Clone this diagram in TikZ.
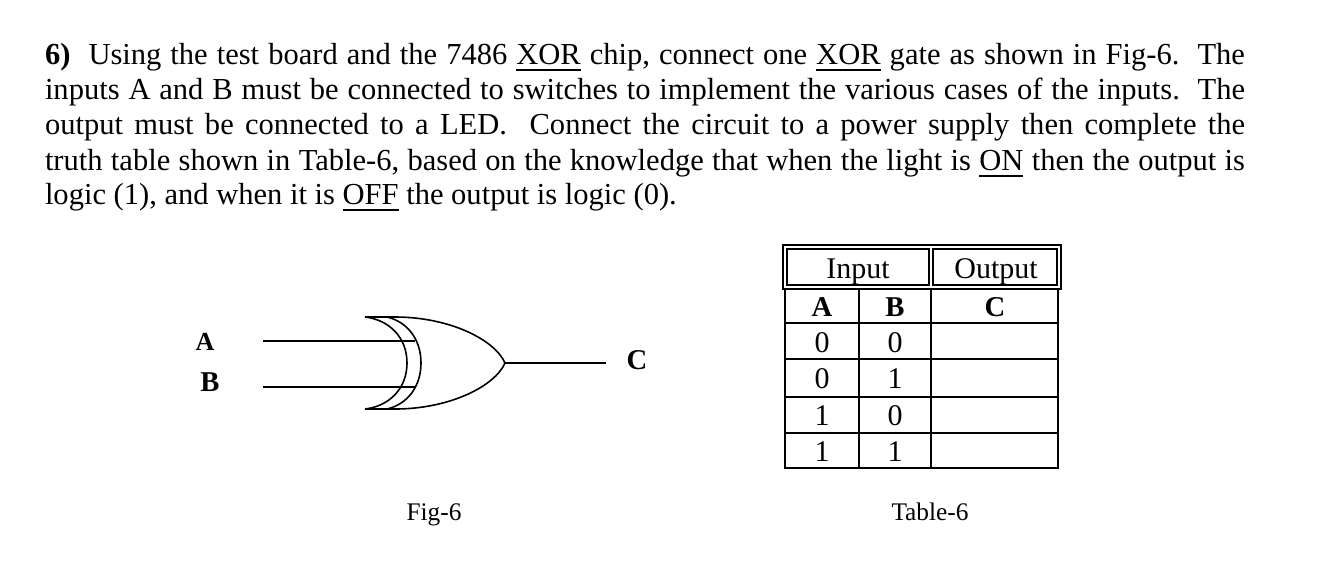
\documentclass[tikz,border=0pt]{standalone}
\usepackage{fontspec}
\setmainfont{Liberation Serif}
\frenchspacing
\newcommand{\fs}{\fontsize{22.9pt}{26pt}\selectfont}
\newcommand{\ul}[1]{\vtop{\hbox{#1}\kern 3.3pt\hrule height 1.5pt}}
\newcommand{\jline}[1]{\hbox to 900pt{#1}}
\tikzset{
 x=0.75pt,y=-0.75pt,
 textline/.style={anchor=base west,inner sep=0pt,outer sep=0pt,font=\fs},
 tcell/.style={anchor=base,inner sep=0pt,outer sep=0pt,font=\fontsize{22.5pt}{24pt}\selectfont},
 hcell/.style={tcell,font=\fontsize{21.5pt}{24pt}\selectfont\bfseries},
 pinlabel/.style={anchor=base,inner sep=0pt,outer sep=0pt,font=\fontsize{21.5pt}{24pt}\selectfont\bfseries},
 figcap/.style={anchor=base,inner sep=0pt,outer sep=0pt,font=\fontsize{19pt}{22pt}\selectfont},
 wire/.style={line width=1.2pt,black},
 rule/.style={line width=1.2pt,black},
}
\begin{document}
\begin{tikzpicture}
\useasboundingbox (0,0) rectangle (1334,568);
\node[textline] (l1) at (45,64) {\jline{\textbf{6)}\ \ Using the test board and the 7486 \ul{XOR} chip, connect one \ul{XOR} gate as shown in Fig-6.\ \ The}};
\node[textline] (l2) at (45,99) {\jline{inputs A and B must be connected to switches to implement the various cases of the inputs.\ \ The}};
\node[textline] (l3) at (45,134) {\jline{output must be connected to a LED.\ \ Connect the circuit to a power supply then complete the}};
\node[textline] (l4) at (45,170) {\jline{truth table shown in Table-6, based on the knowledge that when the light is \ul{ON} then the output is}};
\node[textline] (l5) at (45,204.5) {logic (1), and when it is \ul{OFF} the output is logic (0).};
% gate
\coordinate (tl) at (365,317); \coordinate (bl) at (365,409);
\coordinate (tm) at (395,317); \coordinate (bm) at (395,409);
\coordinate (tip) at (505,363);
\coordinate (ain) at (263,341); \coordinate (aout) at (415,341);
\coordinate (bin) at (263,387); \coordinate (bout) at (415,387);
\coordinate (cend) at (606,363);
\draw[wire] (tl) -- (tm) .. controls (450,317) and (495,340) .. (tip) .. controls (495,386) and (450,409) .. (bm) -- (bl);
\draw[wire] (tl) .. controls (390,320) and (407,338) .. (407,363) .. controls (407,388) and (390,406) .. (bl);
\draw[wire] (387,317) .. controls (408,322) and (421,340) .. (421,363) .. controls (421,386) and (408,404) .. (387,409);
\draw[wire] (ain) -- (aout);
\draw[wire] (bin) -- (bout);
\draw[wire] (tip) -- (cend);
\node[pinlabel,font=\fontsize{19.5pt}{22pt}\selectfont\bfseries] (la) at (205,350) {A};
\node[pinlabel] (lb) at (210,391) {B};
\node[pinlabel] (lc) at (637,369) {C};
\node[figcap] (fig) at (434,520) {Fig-6};
% table
\draw[rule] (783,245) rectangle (1061,289);
\draw[rule] (787,249) rectangle (929,285);
\draw[rule] (933,249) rectangle (1057,285);
\draw[rule] (785,289) rectangle (1058,468);
\draw[rule] (859,289) -- (859,468);
\draw[rule] (931,289) -- (931,468);
\draw[rule] (785,323) -- (1058,323);
\draw[rule] (785,359) -- (1058,359);
\draw[rule] (785,397) -- (1058,397);
\draw[rule] (785,433) -- (1058,433);
\node[tcell] (input) at (858,278) {Input};
\node[tcell] (output) at (996,278) {Output};
\node[hcell] (ha) at (822,316) {A};
\node[hcell] (hb) at (895,316) {B};
\node[hcell] (hc) at (995,316) {C};
\node[tcell] (a1) at (822,352) {0}; \node[tcell] (b1) at (895,352) {0};
\node[tcell] (a2) at (822,388) {0}; \node[tcell] (b2) at (895,388) {1};
\node[tcell] (a3) at (822,425) {1}; \node[tcell] (b3) at (895,425) {0};
\node[tcell] (a4) at (822,461) {1}; \node[tcell] (b4) at (895,461) {1};
\node[figcap] (tab) at (930,520) {Table-6};
\end{tikzpicture}
\end{document}
